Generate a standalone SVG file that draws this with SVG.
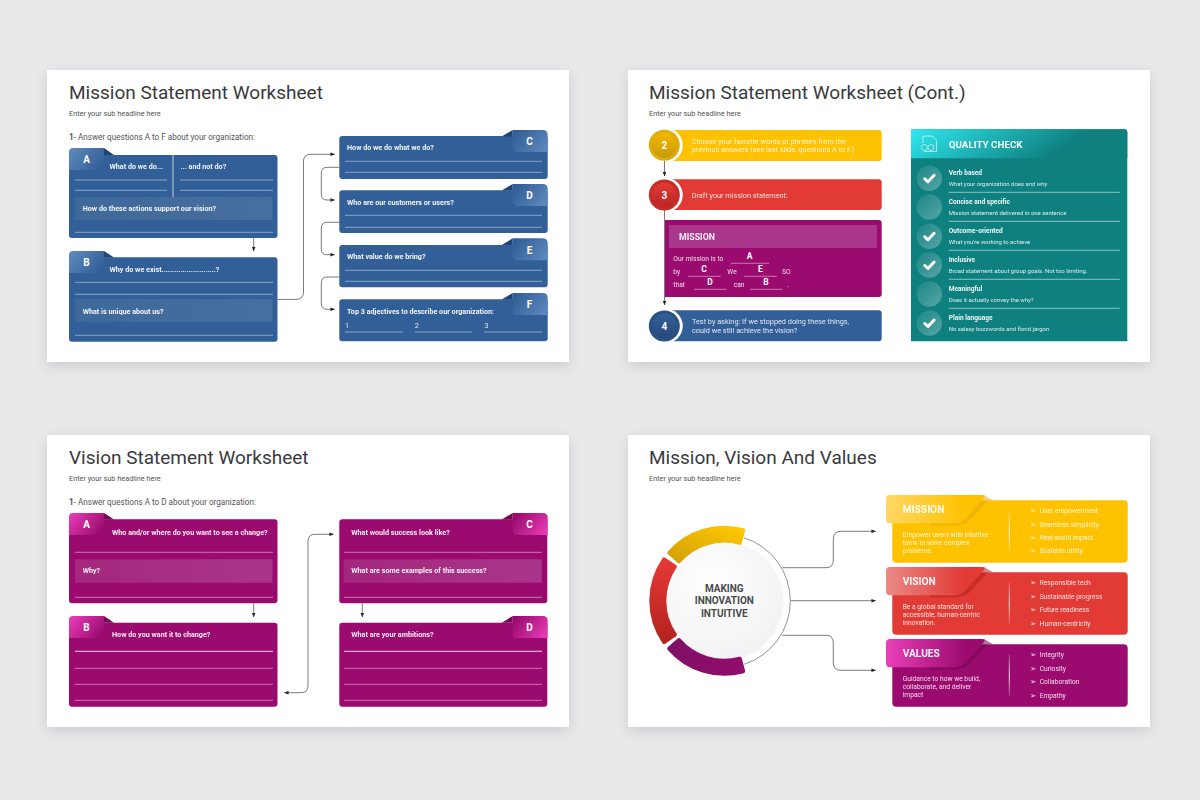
<svg xmlns="http://www.w3.org/2000/svg" width="1200" height="800" viewBox="0 0 1200 800">
<style>
text{font-family:Roboto,"Liberation Sans",sans-serif}
.h{font-size:19px;fill:#3a3a3c}
.sub{font-size:7.3px;fill:#555}
.intro{font-size:8.15px;fill:#555}
.q{font-size:7.2px;font-weight:700;fill:#fff;opacity:.93}
.let{font-size:10px;font-weight:700;fill:#fff;text-anchor:middle}
.ln{stroke:#fff;stroke-opacity:.55;stroke-width:.8;fill:none}
.con{stroke:#444;stroke-width:.7;fill:none;marker-end:url(#ah)}
.blue{fill:#325f97}.pur{fill:#9b0b6f}
.w{font-size:7.3px;fill:#fff;opacity:.85}
.d{font-size:6.7px;fill:#fff;opacity:.85}
.wb{font-size:8.5px;font-weight:700;fill:#fff;text-anchor:middle}
.qt{font-size:6.6px;font-weight:700;fill:#fff;opacity:.92}
.qs{font-size:5.95px;fill:#fff;opacity:.85}
.num{font-size:10px;font-weight:700;fill:#fff;text-anchor:middle}
.cap{font-size:10.2px;font-weight:700;fill:#fff;opacity:.95}
.qc{font-size:9.8px;font-weight:700;fill:#fff;opacity:.95}
.b{font-size:6.7px;fill:#fff;opacity:.85}
.ar{font-size:7.5px;fill:#fff;font-family:"DejaVu Sans",sans-serif;opacity:.9}
.chk{fill:none;stroke:#fff;stroke-width:3;stroke-linecap:round;stroke-linejoin:round}
.rowc{fill:url(#rowg)}
.hub{font-size:10px;font-weight:700;fill:#4a4a4c;text-anchor:middle}
</style>
<defs>
<filter id="sh" x="-5%" y="-5%" width="110%" height="115%"><feDropShadow dx="0" dy="4" stdDeviation="7" flood-color="#000" flood-opacity=".13"/></filter>
<filter id="ds" x="-20%" y="-20%" width="140%" height="140%"><feDropShadow dx="0" dy="1" stdDeviation="1.500" flood-color="#000" flood-opacity=".07"/></filter>
<marker id="ah" viewBox="0 0 6 6" refX="5.5" refY="3" markerWidth="4.4" markerHeight="4.4" markerUnits="userSpaceOnUse" orient="auto"><path d="M0 .6L6 3L0 5.4Z" fill="#222"/></marker>
<linearGradient id="tbL" x1="0" y1="0.2" x2="1" y2="0.7"><stop offset="0" stop-color="#5e88bd"/><stop offset="1" stop-color="#325f97"/></linearGradient>
<linearGradient id="tbR" x1="0" y1="0.3" x2="1" y2="0.8"><stop offset="0" stop-color="#325f97"/><stop offset="1" stop-color="#5e88bd"/></linearGradient>
<linearGradient id="tpL" x1="0" y1="0.2" x2="1" y2="0.7"><stop offset="0" stop-color="#e63ab4"/><stop offset="1" stop-color="#9b0b6f"/></linearGradient>
<linearGradient id="tpR" x1="0" y1="0.3" x2="1" y2="0.8"><stop offset="0" stop-color="#9b0b6f"/><stop offset="1" stop-color="#e63ab4"/></linearGradient>
<linearGradient id="bandb" x1="0" x2="1"><stop offset="0" stop-color="#40699b"/><stop offset="1" stop-color="#466f9f"/></linearGradient>
<linearGradient id="bandp" x1="0" x2="1"><stop offset="0" stop-color="#a3277d"/><stop offset="1" stop-color="#a9368a"/></linearGradient>
<linearGradient id="cy" x1="0" y1="0" x2="1" y2=".2"><stop offset="0" stop-color="#2ee8ee"/><stop offset=".8" stop-color="#0f8080"/></linearGradient>
<linearGradient id="rowg" x1="0" y1="0" x2="1" y2="1"><stop offset="0" stop-color="#fff" stop-opacity=".05"/><stop offset="1" stop-color="#fff" stop-opacity=".3"/></linearGradient>
<linearGradient id="g2" x1="0" y1="0" x2="0" y2="1"><stop offset="0" stop-color="#f3b800"/><stop offset="1" stop-color="#c69a0a"/></linearGradient>
<linearGradient id="g3" x1="0" y1="0" x2="0" y2="1"><stop offset="0" stop-color="#e33a36"/><stop offset="1" stop-color="#b92622"/></linearGradient>
<linearGradient id="g4" x1="0" y1="0" x2="0" y2="1"><stop offset="0" stop-color="#325f97"/><stop offset="1" stop-color="#27497c"/></linearGradient>
<linearGradient id="sy" x1="1" y1="0" x2="0" y2="1"><stop offset="0" stop-color="#ffc800"/><stop offset="1" stop-color="#d2a008"/></linearGradient>
<linearGradient id="sr" x1="0" y1="0" x2="0" y2="1"><stop offset="0" stop-color="#e53a36"/><stop offset="1" stop-color="#b3221e"/></linearGradient>
<linearGradient id="sp" x1="0" y1="0" x2="1" y2="0"><stop offset="0" stop-color="#7e1065"/><stop offset="1" stop-color="#930c6d"/></linearGradient>
<radialGradient id="disc" cx=".4" cy=".35" r=".8"><stop offset="0" stop-color="#fff"/><stop offset="1" stop-color="#f0f0f2"/></radialGradient>
<linearGradient id="ty" x1="0" x2="1"><stop offset="0" stop-color="#ffd765"/><stop offset=".8" stop-color="#ffc200"/></linearGradient>
<linearGradient id="tr" x1="0" x2="1"><stop offset="0" stop-color="#e98a86"/><stop offset=".8" stop-color="#e23a35"/></linearGradient>
<linearGradient id="tv" x1="0" x2="1"><stop offset="0" stop-color="#e93fb8"/><stop offset=".8" stop-color="#9b0b6f"/></linearGradient>
<linearGradient id="dv" x1="0" y1="0" x2="0" y2="1"><stop offset="0" stop-color="#fff" stop-opacity=".2"/><stop offset=".5" stop-color="#fff" stop-opacity=".9"/><stop offset="1" stop-color="#fff" stop-opacity=".2"/></linearGradient>
<path id="tabL" d="M0 22V4Q0 0 4 0H35V22Z"/>
<path id="tabR" d="M0 0H30Q35 0 35 5V22H5Q0 22 0 17Z"/>
<path id="bigtab" d="M0 4Q0 0 4 0H96Q100 0 98 3L80 23Q75 28.300 68 28.300H4Q0 28.300 0 24.300Z"/>
<path id="bigshade" d="M98 0L107 5.300H102L84 25Q78 30.500 68 30.500H44V28.300H68L98 0Z"/>
<path id="ck" d="M-4.500 .5L-1.300 3.500L4.800 -3"/>
</defs>
<rect width="1200" height="800" fill="#e9e8ea"/>
<g id="panels" filter="url(#sh)" fill="#fff"><rect x="47" y="70" width="522" height="292"/><rect x="628" y="70" width="522" height="292"/><rect x="47" y="435" width="522" height="292"/><rect x="628" y="435" width="522" height="292"/></g>

<g id="slide1-head"><text class="h" x="69" y="99">Mission Statement Worksheet</text><text class="sub" x="69" y="116">Enter your sub headline here</text><text class="intro" x="69" y="140"><tspan font-weight="700">1</tspan>- Answer questions A to F about your organization:</text></g>
<g id="s1-connectors">
<path class="con" d="M253.700 238V251"/>
<path class="con" d="M277.500 299.400H296Q303.500 299.400 303.500 292V161Q303.500 154.300 311 154.300H334.500"/>
<path class="con" d="M339.300 167.300H327Q321.300 167.300 321.300 173V194Q321.300 200 327 200H334.500"/>
<path class="con" d="M339.300 222.300H327Q321.300 222.300 321.300 228V249Q321.300 254.700 327 254.700H334.500"/>
<path class="con" d="M339.300 277H327Q321.300 277 321.300 283V303Q321.300 309.300 327 309.300H334.500"/>
</g>
<g id="s1-A"><rect class="blue" x="69" y="155" width="208.500" height="83" rx="3"/><use href="#tabL" x="69" y="148" fill="url(#tbL)"/><path d="M104 148L114 155H104Z" fill="#1f4577"/>
<text class="let" x="86.500" y="163">A</text><text class="q" x="109.500" y="168.500">What do we do...</text><text class="q" x="180.500" y="168.500">... and not do?</text>
<path class="ln" d="M75 180H167M75 190.300H167M180 180H273M180 190.300H273M75 232.300H273"/><path d="M173 155V197" stroke="#a9bcd3" stroke-width="1.200"/>
<rect x="75" y="197" width="197.500" height="23" fill="url(#bandb)"/><text class="q" x="82.700" y="211">How do these actions support our vision?</text></g>
<g id="s1-B"><rect class="blue" x="69" y="257.300" width="208.500" height="84.400" rx="3"/><use href="#tabL" x="69" y="251" fill="url(#tbL)"/><path d="M104 251L114 257.500H104Z" fill="#1f4577"/>
<text class="let" x="86.500" y="266">B</text><text class="q" x="109.500" y="271.500">Why do we exist..........................?</text>
<path class="ln" d="M75 282.300H273M75 294.300H273M75 335.300H273"/><rect x="75" y="299" width="197.500" height="23" fill="url(#bandb)"/><text class="q" x="82.700" y="313.500">What is unique about us?</text></g>
<g id="s1-C"><rect class="blue" x="339.300" y="136" width="208.400" height="43" rx="3"/><use href="#tabR" x="512.700" y="130" fill="url(#tbR)"/><path d="M512.700 130L501.700 136.500H512.700Z" fill="#1f4577"/>
<text class="let" x="529.500" y="144.500">C</text><text class="q" x="347" y="150">How do we do what we do?</text><path class="ln" d="M345 161.300H542M345 172.300H542"/></g>
<g id="s1-D"><rect class="blue" x="339.300" y="190.300" width="208.400" height="42.700" rx="3"/><use href="#tabR" x="512.700" y="184" fill="url(#tbR)"/><path d="M512.700 184L501.700 190.500H512.700Z" fill="#1f4577"/>
<text class="let" x="529.500" y="199">D</text><text class="q" x="347" y="205">Who are our customers or users?</text><path class="ln" d="M345 215.300H542M345 227.300H542"/></g>
<g id="s1-E"><rect class="blue" x="339.300" y="245" width="208.400" height="42.300" rx="3"/><use href="#tabR" x="512.700" y="238.300" fill="url(#tbR)"/><path d="M512.700 238.300L501.700 245H512.700Z" fill="#1f4577"/>
<text class="let" x="529.500" y="253.500">E</text><text class="q" x="347" y="259">What value do we bring?</text><path class="ln" d="M345 270.300H542M345 281.300H542"/></g>
<g id="s1-F"><rect class="blue" x="339.300" y="299.300" width="208.400" height="42" rx="3"/><use href="#tabR" x="512.700" y="293" fill="url(#tbR)"/><path d="M512.700 293L501.700 299.500H512.700Z" fill="#1f4577"/>
<text class="let" x="529.500" y="308">F</text><text class="q" x="347" y="314">Top 3 adjectives to describe our organization:</text>
<text class="w" x="345" y="327.500">1</text><text class="w" x="414.700" y="327.500">2</text><text class="w" x="484.500" y="327.500">3</text><path class="ln" d="M345 332H403M414.700 332H472M484 332H542"/></g>

<g id="slide2-head"><text class="h" x="649" y="99">Mission Statement Worksheet (Cont.)</text><text class="sub" x="649" y="116">Enter your sub headline here</text></g>
<g id="s2-step2"><path d="M665 130H878.700Q881.700 130 881.700 133V158Q881.700 161 878.700 161H665Z" fill="#ffc200"/><circle cx="665.500" cy="145.300" r="17.300" fill="#fff"/><circle cx="664.300" cy="145.300" r="15.500" fill="#e0ac0a"/><circle cx="664.300" cy="145.300" r="12.500" fill="url(#g2)"/><text class="num" x="664.300" y="149">2</text>
<text class="w" x="691.700" y="143.500">Choose your favorite words or phrases from the</text><text class="w" x="691.700" y="152.300">previous answers (see last slide, questions A to F.)</text></g>
<g id="s2-step3"><path d="M665 179.300H878.700Q881.700 179.300 881.700 182.300V207Q881.700 210 878.700 210H665Z" fill="#e23a35"/><circle cx="665.500" cy="195" r="17.300" fill="#fff"/><circle cx="664.300" cy="195" r="15.500" fill="#c52b27"/><circle cx="664.300" cy="195" r="12.500" fill="url(#g3)"/><text class="num" x="664.300" y="198.700">3</text><text class="w" x="691.700" y="198">Draft your mission statement:</text></g>
<g id="s2-mission"><path d="M665 220H878.700Q881.700 220 881.700 223V294Q881.700 297 878.700 297H665Z" class="pur"/><rect x="669" y="225" width="208" height="23" fill="#a9368a"/><text x="679" y="240" font-size="8.800" font-weight="700" fill="#fff" opacity=".92">MISSION</text>
<text class="d" x="673.300" y="260.700">Our mission is to</text><text class="d" x="673.300" y="274.300">by</text><text class="d" x="727.300" y="274.300">We</text><text class="d" x="782" y="274.300">SO</text><text class="d" x="673.300" y="287">that</text><text class="d" x="733.700" y="287">can</text><text class="d" x="787" y="287">.</text>
<text class="wb" x="749.700" y="258.700">A</text><text class="wb" x="704" y="272.300">C</text><text class="wb" x="760.300" y="272.300">E</text><text class="wb" x="710" y="285">D</text><text class="wb" x="766" y="285">B</text>
<path class="ln" d="M731 263.300H769M688 276.300H720.700M744 276.300H776.700M694 289.300H726.700M750 289.300H782.700"/></g>
<g id="s2-step4"><path d="M665 310.300H878.700Q881.700 310.300 881.700 313.300V338.300Q881.700 341.300 878.700 341.300H665Z" class="blue"/><circle cx="665.500" cy="326" r="17.300" fill="#fff"/><circle cx="664.300" cy="326" r="15.500" fill="#2a5184"/><circle cx="664.300" cy="326" r="12.500" fill="url(#g4)"/><text class="num" x="664.300" y="329.700">4</text>
<text class="w" x="692" y="324">Test by asking: If we stopped doing these things,</text><text class="w" x="692" y="333">could we still achieve the vision?</text></g>
<g id="s2-connectors"><path class="con" d="M664.500 161V176"/><path class="con" d="M664.500 210V305"/></g>
<g id="s2-quality"><path d="M911 129.300H1124.300Q1127.300 129.300 1127.300 132.300V341.300H911Z" fill="#0f8080"/><path d="M911 129.300H1124.300Q1127.300 129.300 1127.300 132.300V158.300H911Z" fill="url(#cy)"/>
<g fill="none" stroke="#fff" stroke-width=".6"><path d="M923 143V136H932L936.500 140V151.500H924"/><circle cx="924.500" cy="147.500" r="3"/><circle cx="931" cy="147.500" r="3"/></g>
<text class="qc" x="948.700" y="147.700">QUALITY CHECK</text>
<circle class="rowc" cx="929.300" cy="178.300" r="12.700"/><circle class="rowc" cx="929.300" cy="207" r="12.700"/><circle class="rowc" cx="929.300" cy="236.300" r="12.700"/><circle class="rowc" cx="929.300" cy="265" r="12.700"/><circle class="rowc" cx="929.300" cy="294" r="12.700"/><circle class="rowc" cx="929.300" cy="323" r="12.700"/>
<use href="#ck" class="chk" x="929.300" y="178.300"/><use href="#ck" class="chk" x="929.300" y="236.300"/><use href="#ck" class="chk" x="929.300" y="265"/><use href="#ck" class="chk" x="929.300" y="323"/>
<text class="qt" x="948.700" y="175">Verb based</text><text class="qs" x="948.700" y="186">What your organization does and why</text>
<text class="qt" x="948.700" y="204">Concise and specific</text><text class="qs" x="948.700" y="215">Mission statement delivered in one sentence</text>
<text class="qt" x="948.700" y="232.700">Outcome-oriented</text><text class="qs" x="948.700" y="244">What you're working to achieve</text>
<text class="qt" x="948.700" y="262">Inclusive</text><text class="qs" x="948.700" y="273">Broad statement about group goals. Not too limiting.</text>
<text class="qt" x="948.700" y="290.500">Meaningful</text><text class="qs" x="948.700" y="302">Does it actually convey the why?</text>
<text class="qt" x="948.700" y="319.500">Plain language</text><text class="qs" x="948.700" y="331">No salesy buzzwords and florid jargon</text>
<path d="M948.700 192.300H1119.700M948.700 221.300H1119.700M948.700 250.300H1119.700M948.700 279.300H1119.700M948.700 308.300H1119.700" stroke="#fff" stroke-opacity=".75" stroke-width=".7"/></g>

<g id="slide3-head"><text class="h" x="69" y="464">Vision Statement Worksheet</text><text class="sub" x="69" y="481">Enter your sub headline here</text><text class="intro" x="69" y="505"><tspan font-weight="700">1</tspan>- Answer questions A to D about your organization:</text></g>
<g id="s3-connectors"><path class="con" d="M253.700 603.300V617"/><path class="con" d="M362.300 603.300V617"/><path class="con" d="M296 692.700H301Q308 692.700 308 685.700V541.300Q308 534.300 315 534.300H333.500"/><path class="con" d="M296 692.700H284.500"/></g>
<g id="s3-A"><rect class="pur" x="69" y="519.300" width="208.500" height="84" rx="3"/><use href="#tabL" x="69" y="513" fill="url(#tpL)"/><path d="M104 513L114 519.500H104Z" fill="#72094f"/>
<text class="let" x="86.500" y="527.500">A</text><text class="q" x="112" y="535">Who and/or where do you want to see a change?</text><path class="ln" d="M75 552.300H273M75 597.300H273"/><rect x="75" y="559.300" width="197.500" height="23.400" fill="url(#bandp)"/><text class="q" x="82.700" y="573.300">Why?</text></g>
<g id="s3-B"><rect class="pur" x="69" y="622.700" width="208.500" height="84" rx="3"/><use href="#tabL" x="69" y="616" fill="url(#tpL)"/><path d="M104 616L114 622.700H104Z" fill="#72094f"/>
<text class="let" x="86.500" y="630.500">B</text><text class="q" x="112" y="636.700">How do you want it to change?</text><path class="ln" d="M75 668.300H273M75 684.300H273M75 700.300H273"/><path d="M75 651.300H273" stroke="#fff" stroke-width=".8"/></g>
<g id="s3-C"><rect class="pur" x="339.300" y="519.300" width="208" height="84" rx="3"/><use href="#tabR" x="512.700" y="513" fill="url(#tpR)"/><path d="M512.700 513L501.700 519.500H512.700Z" fill="#72094f"/>
<text class="let" x="529.500" y="527.500">C</text><text class="q" x="351.300" y="535">What would success look like?</text><path class="ln" d="M344 552.300H542M344 597.300H542"/><rect x="343.700" y="559.300" width="198" height="23.400" fill="url(#bandp)"/><text class="q" x="351.300" y="573.300">What are some examples of this success?</text></g>
<g id="s3-D"><rect class="pur" x="339.300" y="622.700" width="208" height="84" rx="3"/><use href="#tabR" x="512.700" y="616" fill="url(#tpR)"/><path d="M512.700 616L501.700 622.700H512.700Z" fill="#72094f"/>
<text class="let" x="529.500" y="630.500">D</text><text class="q" x="351.300" y="636.700">What are your ambitions?</text><path class="ln" d="M344 668.300H542M344 684.300H542M344 700.300H542"/><path d="M344 651.300H542" stroke="#fff" stroke-width=".8"/></g>

<g id="slide4-head"><text class="h" x="649" y="464">Mission, Vision And Values</text><text class="sub" x="649" y="481">Enter your sub headline here</text></g>
<g id="s4-connectors"><path class="con" d="M782.300 567.700H826Q833.300 567.700 833.300 560V539Q833.300 531.300 841 531.300H875.500"/><path class="con" d="M790.700 600.700H875.500"/><path class="con" d="M782.300 635.300H826Q833.300 635.300 833.300 643V662.500Q833.300 670.300 841 670.300H875.500"/></g>
<g id="s4-hub"><path d="M744 537.700A66.400 66.400 0 0 1 744 664.300" fill="none" stroke="#666" stroke-width=".7"/><circle cx="724.300" cy="600.700" r="58.500" fill="url(#disc)" filter="url(#ds)"/>
<g stroke-width="4" stroke-linejoin="round"><path d="M743.200 530.200A73 73 0 0 0 669.200 552.800L679 561.300A60 60 0 0 1 739.800 542.700Z" fill="url(#sy)" stroke="url(#sy)"/><path d="M664.100 559.400A73 73 0 0 0 664.100 642L674.900 634.700A60 60 0 0 1 674.900 566.700Z" fill="url(#sr)" stroke="url(#sr)"/><path d="M669.200 648.600A73 73 0 0 0 743.200 671.200L739.800 658.700A60 60 0 0 1 679 640.100Z" fill="url(#sp)" stroke="url(#sp)"/></g>
<text class="hub" x="724.300" y="592">MAKING</text><text class="hub" x="724.300" y="604.300">INNOVATION</text><text class="hub" x="724.300" y="617">INTUITIVE</text></g>
<g id="s4-mission"><rect x="892.300" y="500.300" width="235.400" height="62.400" rx="4" fill="#ffc200"/><use href="#bigshade" x="886" y="495" fill="#dba70a" opacity=".5"/><use href="#bigtab" x="886" y="495" fill="url(#ty)"/>
<text class="cap" x="902.700" y="513">MISSION</text><text class="d" x="902.700" y="537.300">Empower users with intuitive</text><text class="d" x="902.700" y="545.300">tools to solve complex</text><text class="d" x="902.700" y="553">problems.</text><rect x="1008.800" y="510.700" width="1" height="41" fill="url(#dv)"/>
<text class="ar" x="1030" y="513.300">➢</text><text class="b" x="1039.700" y="513.300">User empowerment</text><text class="ar" x="1030" y="526.700">➢</text><text class="b" x="1039.700" y="526.700">Seamless simplicity</text><text class="ar" x="1030" y="540">➢</text><text class="b" x="1039.700" y="540">Real-world impact</text><text class="ar" x="1030" y="553.300">➢</text><text class="b" x="1039.700" y="553.300">Scalable utility</text></g>
<g id="s4-vision"><rect x="892.300" y="572.300" width="235.400" height="62.400" rx="4" fill="#e23a35"/><use href="#bigshade" x="886" y="567" fill="#b3221e" opacity=".55"/><use href="#bigtab" x="886" y="567" fill="url(#tr)"/>
<text class="cap" x="902.700" y="585">VISION</text><text class="d" x="902.700" y="609.300">Be a global standard for</text><text class="d" x="902.700" y="617.300">accessible, human-centric</text><text class="d" x="902.700" y="625">innovation.</text><rect x="1008.800" y="582.700" width="1" height="41" fill="url(#dv)"/>
<text class="ar" x="1030" y="585.300">➢</text><text class="b" x="1039.700" y="585.300">Responsible tech</text><text class="ar" x="1030" y="599">➢</text><text class="b" x="1039.700" y="599">Sustainable progress</text><text class="ar" x="1030" y="612">➢</text><text class="b" x="1039.700" y="612">Future readiness</text><text class="ar" x="1030" y="625.700">➢</text><text class="b" x="1039.700" y="625.700">Human-centricity</text></g>
<g id="s4-values"><rect x="892.300" y="644.300" width="235.400" height="62.400" rx="4" fill="#9b0b6f"/><use href="#bigshade" x="886" y="639" fill="#72094f" opacity=".55"/><use href="#bigtab" x="886" y="639" fill="url(#tv)"/>
<text class="cap" x="902.700" y="657">VALUES</text><text class="d" x="902.700" y="681.300">Guidance to how we build,</text><text class="d" x="902.700" y="689.300">collaborate, and deliver</text><text class="d" x="902.700" y="697">impact</text><rect x="1008.800" y="654.700" width="1" height="41" fill="url(#dv)"/>
<text class="ar" x="1030" y="657.300">➢</text><text class="b" x="1039.700" y="657.300">Integrity</text><text class="ar" x="1030" y="671">➢</text><text class="b" x="1039.700" y="671">Curiosity</text><text class="ar" x="1030" y="684">➢</text><text class="b" x="1039.700" y="684">Collaboration</text><text class="ar" x="1030" y="697.700">➢</text><text class="b" x="1039.700" y="697.700">Empathy</text></g>
</svg>
